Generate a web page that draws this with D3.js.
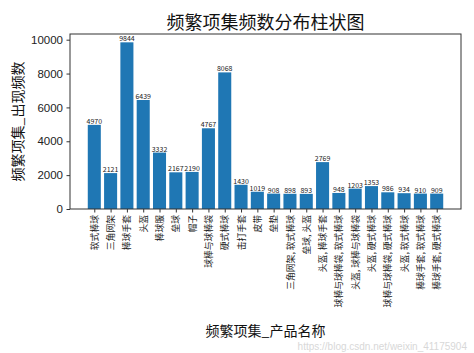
<!DOCTYPE html>
<html>
<head>
<meta charset="utf-8">
<script src="https://cdn.jsdelivr.net/npm/d3@7"></script>
<style>
  html, body { margin: 0; padding: 0; background: #fff; }
  svg text { font-family: "Noto Sans CJK SC", "DejaVu Sans", sans-serif; }
</style>
</head>
<body>
<svg id="chart" width="474" height="353"></svg>
<script>
const categories = [
  "软式棒球", "三角网架", "棒球手套", "头盔", "棒球服", "垒球", "帽子",
  "球棒与球棒袋", "硬式棒球", "击打手套", "皮带", "垒垫",
  "三角网架, 软式棒球", "垒球, 头盔", "头盔, 棒球手套", "球棒与球棒袋, 软式棒球",
  "头盔, 球棒与球棒袋", "头盔, 硬式棒球", "球棒与球棒袋, 硬式棒球",
  "头盔, 软式棒球", "棒球手套, 软式棒球", "棒球手套, 硬式棒球"
];
const counts = [
  4970, 2121, 9844, 6439, 3332, 2167, 2190, 4767, 8068, 1430, 1019, 908,
  898, 893, 2769, 948, 1203, 1353, 986, 934, 910, 909
];
const yTicks = [0, 2000, 4000, 6000, 8000, 10000];
const titleText = "频繁项集频数分布柱状图";
const xLabelText = "频繁项集_产品名称";
const yLabelText = "频繁项集_出现频数";
const watermark = "https://blog.csdn.net/weixin_41175904";

const svg = d3.select("#chart");
const L = 70, R = 461, T = 34, B = 209;
const n = categories.length;
const bw = 0.8;
const span = (n - 1) + bw;
const pad = span * 0.05;
const x = d3.scaleLinear().domain([-bw/2 - pad, (n - 1) + bw/2 + pad]).range([L, R]);
const ymax = d3.max(counts) * 1.05;
const y = d3.scaleLinear().domain([0, ymax]).range([B, T]);

// bars
svg.append("g").selectAll("rect").data(counts).join("rect")
  .attr("x", (d, i) => x(i - bw/2))
  .attr("width", x(bw) - x(0))
  .attr("y", d => y(d))
  .attr("height", d => y(0) - y(d))
  .attr("fill", "#1f77b4");

// value labels
svg.append("g").selectAll("text").data(counts).join("text")
  .attr("x", (d, i) => x(i))
  .attr("y", d => y(d) - 1)
  .attr("text-anchor", "middle")
  .attr("font-size", 7)
  .attr("fill", "#222")
  .text(d => d);

// y axis
const yAxis = d3.axisLeft(y).tickValues(yTicks).tickSize(3.5).tickPadding(3.5).tickFormat(d3.format("d"));
const gy = svg.append("g").attr("transform", `translate(${L},0)`).call(yAxis);
gy.select(".domain").remove();
gy.selectAll("text").attr("font-size", 11.5).attr("fill", "#222")
  .style("font-family", "'Liberation Sans', 'DejaVu Sans', sans-serif");
gy.selectAll("line").attr("stroke", "#333");

// x axis
const xAxis = d3.axisBottom(x).tickValues(d3.range(n)).tickSize(3.5).tickFormat(i => categories[i]);
const gx = svg.append("g").attr("transform", `translate(0,${B})`).call(xAxis);
gx.select(".domain").remove();
gx.selectAll("line").attr("stroke", "#333");
gx.selectAll("text")
  .attr("font-size", 8.8)
  .attr("fill", "#222")
  .attr("text-anchor", "end")
  .attr("dy", "0.35em")
  .attr("y", 0)
  .attr("transform", "translate(0,6) rotate(-90)");

// frame
svg.append("rect").attr("x", L).attr("y", T).attr("width", R - L).attr("height", B - T)
  .attr("fill", "none").attr("stroke", "#333").attr("stroke-width", 1);

// title
svg.append("text").attr("x", (L + R) / 2).attr("y", 29).attr("text-anchor", "middle")
  .attr("font-size", 18).attr("fill", "#111").text(titleText);

// x label
svg.append("text").attr("x", (L + R) / 2).attr("y", 336).attr("text-anchor", "middle")
  .attr("font-size", 14).attr("fill", "#111").text(xLabelText);

// y label
svg.append("text").attr("transform", `translate(23,${(T + B) / 2}) rotate(-90)`)
  .attr("text-anchor", "middle").attr("font-size", 14).attr("fill", "#111").text(yLabelText);

// watermark
svg.append("text").attr("x", 467).attr("y", 350).attr("text-anchor", "end")
  .attr("font-size", 10).attr("fill", "#d8d8d8")
  .style("font-family", "'Liberation Sans', 'DejaVu Sans', sans-serif")
  .text(watermark);
</script>
</body>
</html>
